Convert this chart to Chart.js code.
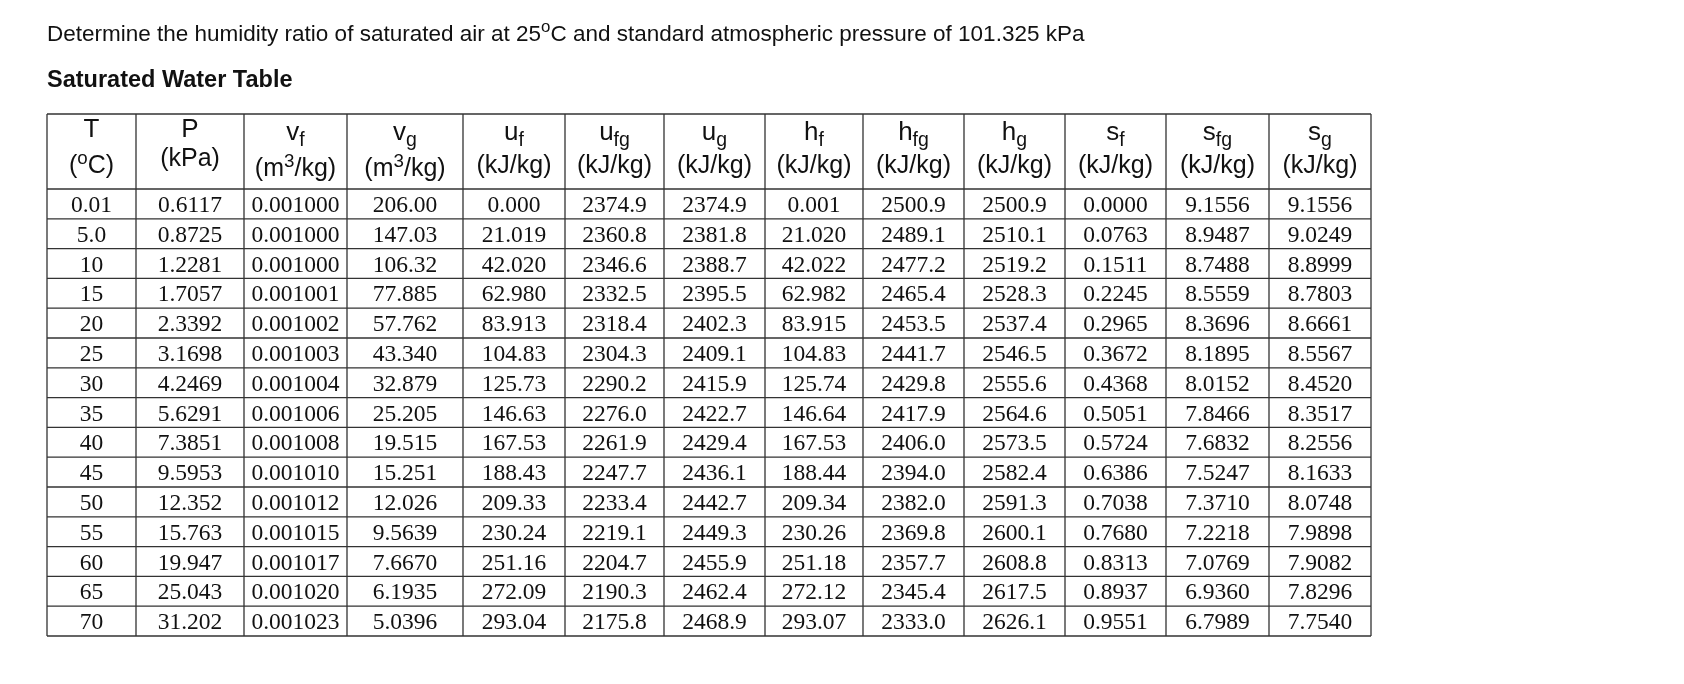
<!DOCTYPE html>
<html>
<head>
<meta charset="utf-8">
<script src="https://cdn.jsdelivr.net/npm/chart.js@4"></script>
<style>
  html, body { margin: 0; padding: 0; background: #fff; }
  #wrap { width: 1684px; height: 684px; }
</style>
</head>
<body>
<div id="wrap"><canvas id="table_chart"></canvas></div>
<script>
// table content
const headSymbols = [['T',''], ['P',''], ['v','f'], ['v','g'], ['u','f'], ['u','fg'], ['u','g'], ['h','f'], ['h','fg'], ['h','g'], ['s','f'], ['s','fg'], ['s','g']];
const headUnits = ['(oC)', '(kPa)', '(m3/kg)', '(m3/kg)', '(kJ/kg)', '(kJ/kg)', '(kJ/kg)', '(kJ/kg)', '(kJ/kg)', '(kJ/kg)', '(kJ/kg)', '(kJ/kg)', '(kJ/kg)'];
const temps = ['0.01', '5.0', '10', '15', '20', '25', '30', '35', '40', '45', '50', '55', '60', '65', '70'];
const pressure = ['0.6117', '0.8725', '1.2281', '1.7057', '2.3392', '3.1698', '4.2469', '5.6291', '7.3851', '9.5953', '12.352', '15.763', '19.947', '25.043', '31.202'];
const vf = ['0.001000', '0.001000', '0.001000', '0.001001', '0.001002', '0.001003', '0.001004', '0.001006', '0.001008', '0.001010', '0.001012', '0.001015', '0.001017', '0.001020', '0.001023'];
const vg = ['206.00', '147.03', '106.32', '77.885', '57.762', '43.340', '32.879', '25.205', '19.515', '15.251', '12.026', '9.5639', '7.6670', '6.1935', '5.0396'];
const uf = ['0.000', '21.019', '42.020', '62.980', '83.913', '104.83', '125.73', '146.63', '167.53', '188.43', '209.33', '230.24', '251.16', '272.09', '293.04'];
const ufg = ['2374.9', '2360.8', '2346.6', '2332.5', '2318.4', '2304.3', '2290.2', '2276.0', '2261.9', '2247.7', '2233.4', '2219.1', '2204.7', '2190.3', '2175.8'];
const ug = ['2374.9', '2381.8', '2388.7', '2395.5', '2402.3', '2409.1', '2415.9', '2422.7', '2429.4', '2436.1', '2442.7', '2449.3', '2455.9', '2462.4', '2468.9'];
const hf = ['0.001', '21.020', '42.022', '62.982', '83.915', '104.83', '125.74', '146.64', '167.53', '188.44', '209.34', '230.26', '251.18', '272.12', '293.07'];
const hfg = ['2500.9', '2489.1', '2477.2', '2465.4', '2453.5', '2441.7', '2429.8', '2417.9', '2406.0', '2394.0', '2382.0', '2369.8', '2357.7', '2345.4', '2333.0'];
const hg = ['2500.9', '2510.1', '2519.2', '2528.3', '2537.4', '2546.5', '2555.6', '2564.6', '2573.5', '2582.4', '2591.3', '2600.1', '2608.8', '2617.5', '2626.1'];
const sf = ['0.0000', '0.0763', '0.1511', '0.2245', '0.2965', '0.3672', '0.4368', '0.5051', '0.5724', '0.6386', '0.7038', '0.7680', '0.8313', '0.8937', '0.9551'];
const sfg = ['9.1556', '8.9487', '8.7488', '8.5559', '8.3696', '8.1895', '8.0152', '7.8466', '7.6832', '7.5247', '7.3710', '7.2218', '7.0769', '6.9360', '6.7989'];
const sg = ['9.1556', '9.0249', '8.8999', '8.7803', '8.6661', '8.5567', '8.4520', '8.3517', '8.2556', '8.1633', '8.0748', '7.9898', '7.9082', '7.8296', '7.7540'];
const columns = [temps, pressure, vf, vg, uf, ufg, ug, hf, hfg, hg, sf, sfg, sg];

// layout (page units = pixels on the x / y scales)
const colEdges = [47, 136, 244, 347, 463, 565, 664, 765, 863, 964, 1065, 1166, 1269, 1371];
const tableTop = 114, headBottom = 189, tableBottom = 636;

// draws "x^sup" / "x_sub" style strings: parts = [[text, 'n'|'sup'|'sub'], ...]
function richWidth(ctx, parts, size, family) {
    let w = 0;
    parts.forEach(([t, m]) => {
        ctx.font = (m === 'n' ? size : size * 0.75) + 'px ' + family;
        w += ctx.measureText(t).width;
    });
    return w;
}
function drawRich(ctx, parts, cx, y, size, family) {
    let x = cx - richWidth(ctx, parts, size, family) / 2;
    parts.forEach(([t, m]) => {
        ctx.font = (m === 'n' ? size : size * 0.75) + 'px ' + family;
        let dy = m === 'sup' ? -size * 0.38 : (m === 'sub' ? size * 0.22 : 0);
        ctx.fillText(t, x, y + dy);
        x += ctx.measureText(t).width;
    });
}
function unitParts(u) {
    if (u === '(oC)') return [['(', 'n'], ['o', 'sup'], ['C)', 'n']];
    if (u === '(m3/kg)') return [['(m', 'n'], ['3', 'sup'], ['/kg)', 'n']];
    return [[u, 'n']];
}

const tablePlugin = {
    id: 'tablePlugin',
    afterDraw(chart) {
        const ctx = chart.ctx, xs = chart.scales.x, ys = chart.scales.y;
        const X = v => xs.getPixelForValue(v), Y = v => ys.getPixelForValue(v);
        const sans = '"Liberation Sans", Arial, sans-serif';
        const serif = '"Liberation Serif", "Times New Roman", serif';
        ctx.save();
        ctx.fillStyle = '#111';
        ctx.textBaseline = 'alphabetic';
        const title = [['Determine the humidity ratio of saturated air at 25', 'n'], ['o', 'sup'], ['C and standard atmospheric pressure of 101.325 kPa', 'n']];
        drawRich(ctx, title, X(47) + richWidth(ctx, title, 22.5, sans) / 2, Y(41), 22.5, sans);
        ctx.font = 'bold 23.5px ' + sans;
        ctx.textAlign = 'left';
        ctx.fillText('Saturated Water Table', X(47), Y(87));

        // grid
        ctx.strokeStyle = '#333';
        ctx.lineWidth = 1.3;
        const rowH = (tableBottom - headBottom) / temps.length;
        ctx.beginPath();
        colEdges.forEach(e => { ctx.moveTo(X(e), Y(tableTop)); ctx.lineTo(X(e), Y(tableBottom)); });
        [tableTop, headBottom].forEach(r => { ctx.moveTo(X(47), Y(r)); ctx.lineTo(X(1371), Y(r)); });
        for (let i = 1; i <= temps.length; i++) {
            const r = headBottom + i * rowH;
            ctx.moveTo(X(47), Y(r)); ctx.lineTo(X(1371), Y(r));
        }
        ctx.stroke();

        // header
        headSymbols.forEach(([s, sub], c) => {
            const cx = X((colEdges[c] + colEdges[c + 1]) / 2);
            const parts = sub ? [[s, 'n'], [sub, 'sub']] : [[s, 'n']];
            drawRich(ctx, parts, cx, Y(sub ? 140 : 137), 26, sans);
            const uy = (c === 2 || c === 3) ? 176 : (c === 1 ? 166 : 173);
            drawRich(ctx, unitParts(headUnits[c]), cx, Y(uy), 25, sans);
        });

        // body
        ctx.textAlign = 'center';
        ctx.font = '23.5px ' + serif;
        columns.forEach((col, c) => {
            const cx = X((colEdges[c] + colEdges[c + 1]) / 2);
            col.forEach((v, r) => ctx.fillText(v, cx, Y(headBottom + (r + 0.5) * rowH + 8)));
        });
        ctx.restore();
    }
};

new Chart(document.getElementById('table_chart'), {
    type: 'scatter',
    data: { datasets: [{ data: [] }] },
    options: {
        animation: false,
        maintainAspectRatio: false,
        responsive: true,
        layout: { padding: 0 },
        plugins: { legend: { display: false }, tooltip: { enabled: false } },
        scales: {
            x: { type: 'linear', min: 0, max: 1684, display: false },
            y: { type: 'linear', min: 0, max: 684, reverse: true, display: false }
        }
    },
    plugins: [tablePlugin]
});
</script>
</body>
</html>
